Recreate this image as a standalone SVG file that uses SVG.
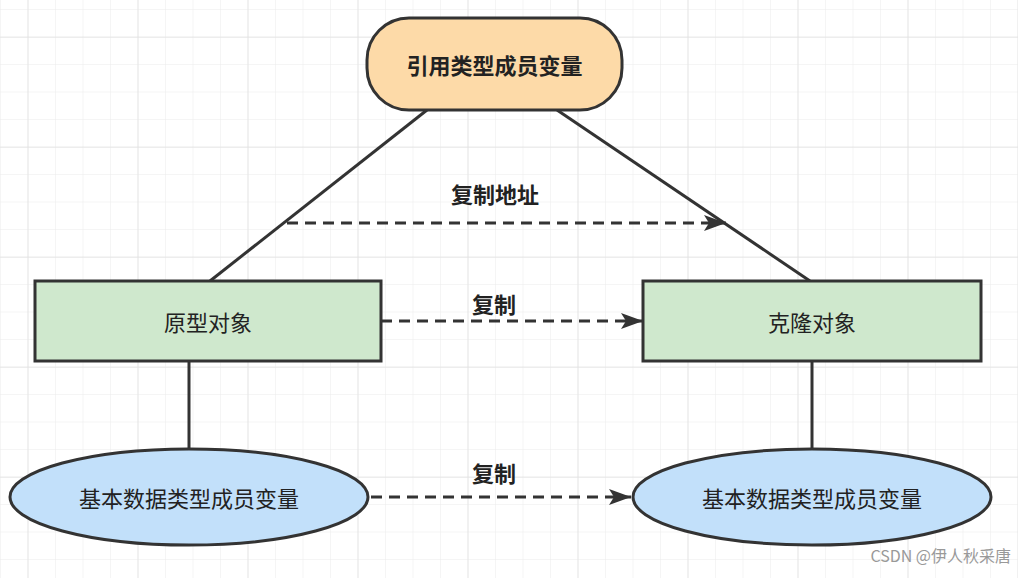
<svg xmlns="http://www.w3.org/2000/svg" width="1018" height="578" viewBox="0 0 1018 578">
<defs>
<pattern id="g" width="27.5" height="27.5" patternUnits="userSpaceOnUse" x="0" y="9"><path d="M0 0H27.5M0 0V27.5" stroke="#ebebeb" stroke-width="1" fill="none"/></pattern>
<pattern id="G" width="110" height="110" patternUnits="userSpaceOnUse" x="27.5" y="36.7"><path d="M0 0H110M0 0V110" stroke="#e2e2e2" stroke-width="1.5" fill="none"/></pattern>
<marker id="a" markerWidth="22" markerHeight="16" refX="22" refY="8" orient="auto" markerUnits="userSpaceOnUse" viewBox="0 0 22 16"><path d="M0 0L22 8L0 16L5 8Z" fill="#333"/></marker>
</defs>
<style>
.n{stroke:#333;stroke-width:3}
.t{font-family:"Noto Sans CJK SC","Liberation Sans",sans-serif;font-size:22px;fill:#222;text-anchor:middle;dominant-baseline:central}
.b{font-weight:bold}
.l{stroke:#333;stroke-width:3;fill:none}
.d{stroke:#333;stroke-width:3;fill:none;stroke-dasharray:11 7;marker-end:url(#a)}
</style>
<rect width="1018" height="578" fill="#fff"/>
<rect width="1018" height="578" fill="url(#g)"/>
<rect width="1018" height="578" fill="url(#G)"/>
<g id="connectors">
<path class="l" d="M427 110L210 281"/>
<path class="l" d="M557 110L810 281"/>
<path class="l" d="M189 361V450"/>
<path class="l" d="M812 361V450"/>
<path class="d" d="M287 223H726"/>
<path class="d" d="M381 321H643"/>
<path class="d" d="M371 497H631"/>
<text class="t b" x="495" y="193">复制地址</text>
<text class="t b" x="494" y="303">复制</text>
<text class="t b" x="494" y="472">复制</text>
</g>
<g id="ref"><rect class="n" x="367" y="18" width="255" height="92" rx="42" fill="#fddaa8"/><text class="t b" x="494.5" y="64">引用类型成员变量</text></g>
<g id="proto"><rect class="n" x="35" y="281" width="346" height="80" fill="#cfe8cd"/><text class="t" x="208" y="321">原型对象</text></g>
<g id="clone"><rect class="n" x="643" y="281" width="338" height="80" fill="#cfe8cd"/><text class="t" x="812" y="321">克隆对象</text></g>
<g id="e1"><ellipse class="n" cx="189" cy="497" rx="179" ry="48" fill="#c2e0fa"/><text class="t" x="189" y="497">基本数据类型成员变量</text></g>
<g id="e2"><ellipse class="n" cx="812" cy="497" rx="179" ry="48" fill="#c2e0fa"/><text class="t" x="812" y="497">基本数据类型成员变量</text></g>
<text x="1011" y="562" font-family="Noto Sans CJK SC,Liberation Sans,sans-serif" font-size="16" fill="#999" text-anchor="end">CSDN @伊人秋采唐</text>
</svg>
